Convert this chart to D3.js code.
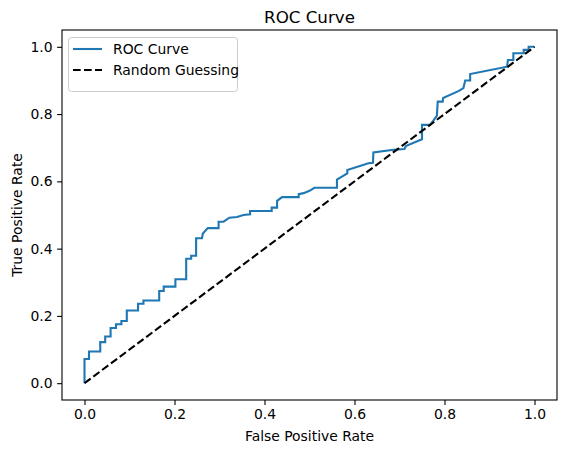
<!DOCTYPE html>
<html>
<head>
<meta charset="utf-8">
<script src="https://cdn.jsdelivr.net/npm/d3@7"></script>
<style>
  body { margin: 0; background: #fff; }
  svg { display: block; font-family: "DejaVu Sans", sans-serif; }
</style>
</head>
<body>
<svg></svg>
<script>
// ROC points
const fpr = [
    0, 0, 0.010, 0.010, 0.035, 0.035, 0.046, 0.046, 0.058, 0.058,
    0.070, 0.070, 0.082, 0.082, 0.094, 0.094, 0.119, 0.119, 0.131, 0.131,
    0.166, 0.166, 0.176, 0.176, 0.202, 0.202, 0.226, 0.226, 0.237, 0.237,
    0.248, 0.248, 0.261, 0.263, 0.274, 0.298, 0.298, 0.309, 0.322, 0.339,
    0.353, 0.368, 0.368, 0.416, 0.416, 0.428, 0.428, 0.439, 0.476, 0.476,
    0.487, 0.500, 0.511, 0.561, 0.561, 0.584, 0.584, 0.631, 0.641, 0.642,
    0.687, 0.711, 0.714, 0.750, 0.750, 0.768, 0.783, 0.785, 0.796, 0.797,
    0.832, 0.842, 0.846, 0.857, 0.857, 0.939, 0.941, 0.953, 0.953, 0.976,
    0.976, 0.987, 0.987, 1.0
]
const tpr = [
    0, 0.072, 0.072, 0.094, 0.094, 0.122, 0.122, 0.139, 0.139, 0.164,
    0.164, 0.175, 0.175, 0.185, 0.185, 0.216, 0.216, 0.236, 0.236, 0.246,
    0.246, 0.274, 0.274, 0.287, 0.287, 0.309, 0.309, 0.370, 0.370, 0.379,
    0.379, 0.431, 0.431, 0.445, 0.461, 0.461, 0.480, 0.480, 0.492, 0.494,
    0.500, 0.502, 0.512, 0.512, 0.522, 0.522, 0.542, 0.553, 0.553, 0.562,
    0.565, 0.572, 0.581, 0.581, 0.605, 0.624, 0.634, 0.654, 0.655, 0.686,
    0.694, 0.696, 0.705, 0.725, 0.768, 0.768, 0.795, 0.837, 0.837, 0.848,
    0.869, 0.877, 0.900, 0.900, 0.919, 0.941, 0.961, 0.961, 0.981, 0.981,
    0.991, 0.991, 1.0, 1.0
]
const diagonal = [0, 1]
const tickValues = [0, 0.2, 0.4, 0.6, 0.8, 1.0]
const legendLabels = ['ROC Curve', 'Random Guessing']

const width = 567
const height = 453
const margin = { left: 62, right: 10, top: 30, bottom: 53 }

const svg = d3.select('svg')
    .attr('width', width)
    .attr('height', height)

const xScale = d3.scaleLinear()
    .domain([-0.05, 1.05])
    .range([margin.left, width - margin.right])
const yScale = d3.scaleLinear()
    .domain([-0.05, 1.05])
    .range([height - margin.bottom, margin.top])

const line = d3.line()
    .x(d => xScale(d[0]))
    .y(d => yScale(d[1]))

// axes
const xAxis = d3.axisBottom(xScale)
    .tickValues(tickValues)
    .tickFormat(d3.format('.1f'))
    .tickSize(4.9)
    .tickPadding(4.5)
const yAxis = d3.axisLeft(yScale)
    .tickValues(tickValues)
    .tickFormat(d3.format('.1f'))
    .tickSize(4.9)
    .tickPadding(4.5)

const gx = svg.append('g')
    .attr('transform', `translate(0, ${height - margin.bottom})`)
    .call(xAxis)
const gy = svg.append('g')
    .attr('transform', `translate(${margin.left}, 0)`)
    .call(yAxis)
;[gx, gy].forEach(g => {
    g.select('.domain').remove()
    g.selectAll('line').attr('stroke', '#000').attr('stroke-width', 1.1)
    g.selectAll('text')
        .attr('fill', '#000')
        .style('font-size', '13.9px')
        .style('font-family', '"DejaVu Sans", sans-serif')
})

// lines
const rocPoints = fpr.map((f, i) => [f, tpr[i]])
svg.append('path')
    .datum(rocPoints)
    .attr('d', line)
    .attr('fill', 'none')
    .attr('stroke', '#1f77b4')
    .attr('stroke-width', 2.1)
    .attr('stroke-linejoin', 'miter')

svg.append('path')
    .datum(diagonal.map(d => [d, d]))
    .attr('d', line)
    .attr('fill', 'none')
    .attr('stroke', '#000')
    .attr('stroke-width', 2.1)
    .attr('stroke-dasharray', '7.7,3.3')

// frame
svg.append('rect')
    .attr('x', margin.left)
    .attr('y', margin.top)
    .attr('width', width - margin.left - margin.right)
    .attr('height', height - margin.top - margin.bottom)
    .attr('fill', 'none')
    .attr('stroke', '#000')
    .attr('stroke-width', 1.1)

// texts
svg.append('text')
    .attr('x', (margin.left + width - margin.right) / 2)
    .attr('y', 23)
    .attr('text-anchor', 'middle')
    .style('font-size', '16.7px')
    .text('ROC Curve')
svg.append('text')
    .attr('x', (margin.left + width - margin.right) / 2)
    .attr('y', 441)
    .attr('text-anchor', 'middle')
    .style('font-size', '13.9px')
    .text('False Positive Rate')
svg.append('text')
    .attr('transform', `translate(22, ${(margin.top + height - margin.bottom) / 2}) rotate(-90)`)
    .attr('text-anchor', 'middle')
    .style('font-size', '13.9px')
    .text('True Positive Rate')

// legend
const legend = svg.append('g')
legend.append('rect')
    .attr('x', 68.5)
    .attr('y', 37.5)
    .attr('width', 169)
    .attr('height', 54)
    .attr('rx', 3)
    .attr('fill', 'rgba(255,255,255,0.8)')
    .attr('stroke', '#cccccc')
    .attr('stroke-width', 1)
const items = legend.selectAll('.legend-item')
    .data(legendLabels)
    .enter()
    .append('g')
    .attr('class', 'legend-item')
    .attr('transform', (d, i) => `translate(0, ${49 + i * 21})`)
items.append('line')
    .attr('x1', 73)
    .attr('x2', 102)
    .attr('stroke', (d, i) => i === 0 ? '#1f77b4' : '#000')
    .attr('stroke-width', 2.1)
    .attr('stroke-dasharray', (d, i) => i === 0 ? null : '7.7,3.3')
items.append('text')
    .attr('x', 113)
    .attr('y', 5)
    .style('font-size', '13.9px')
    .text(d => d)
</script>
</body>
</html>
